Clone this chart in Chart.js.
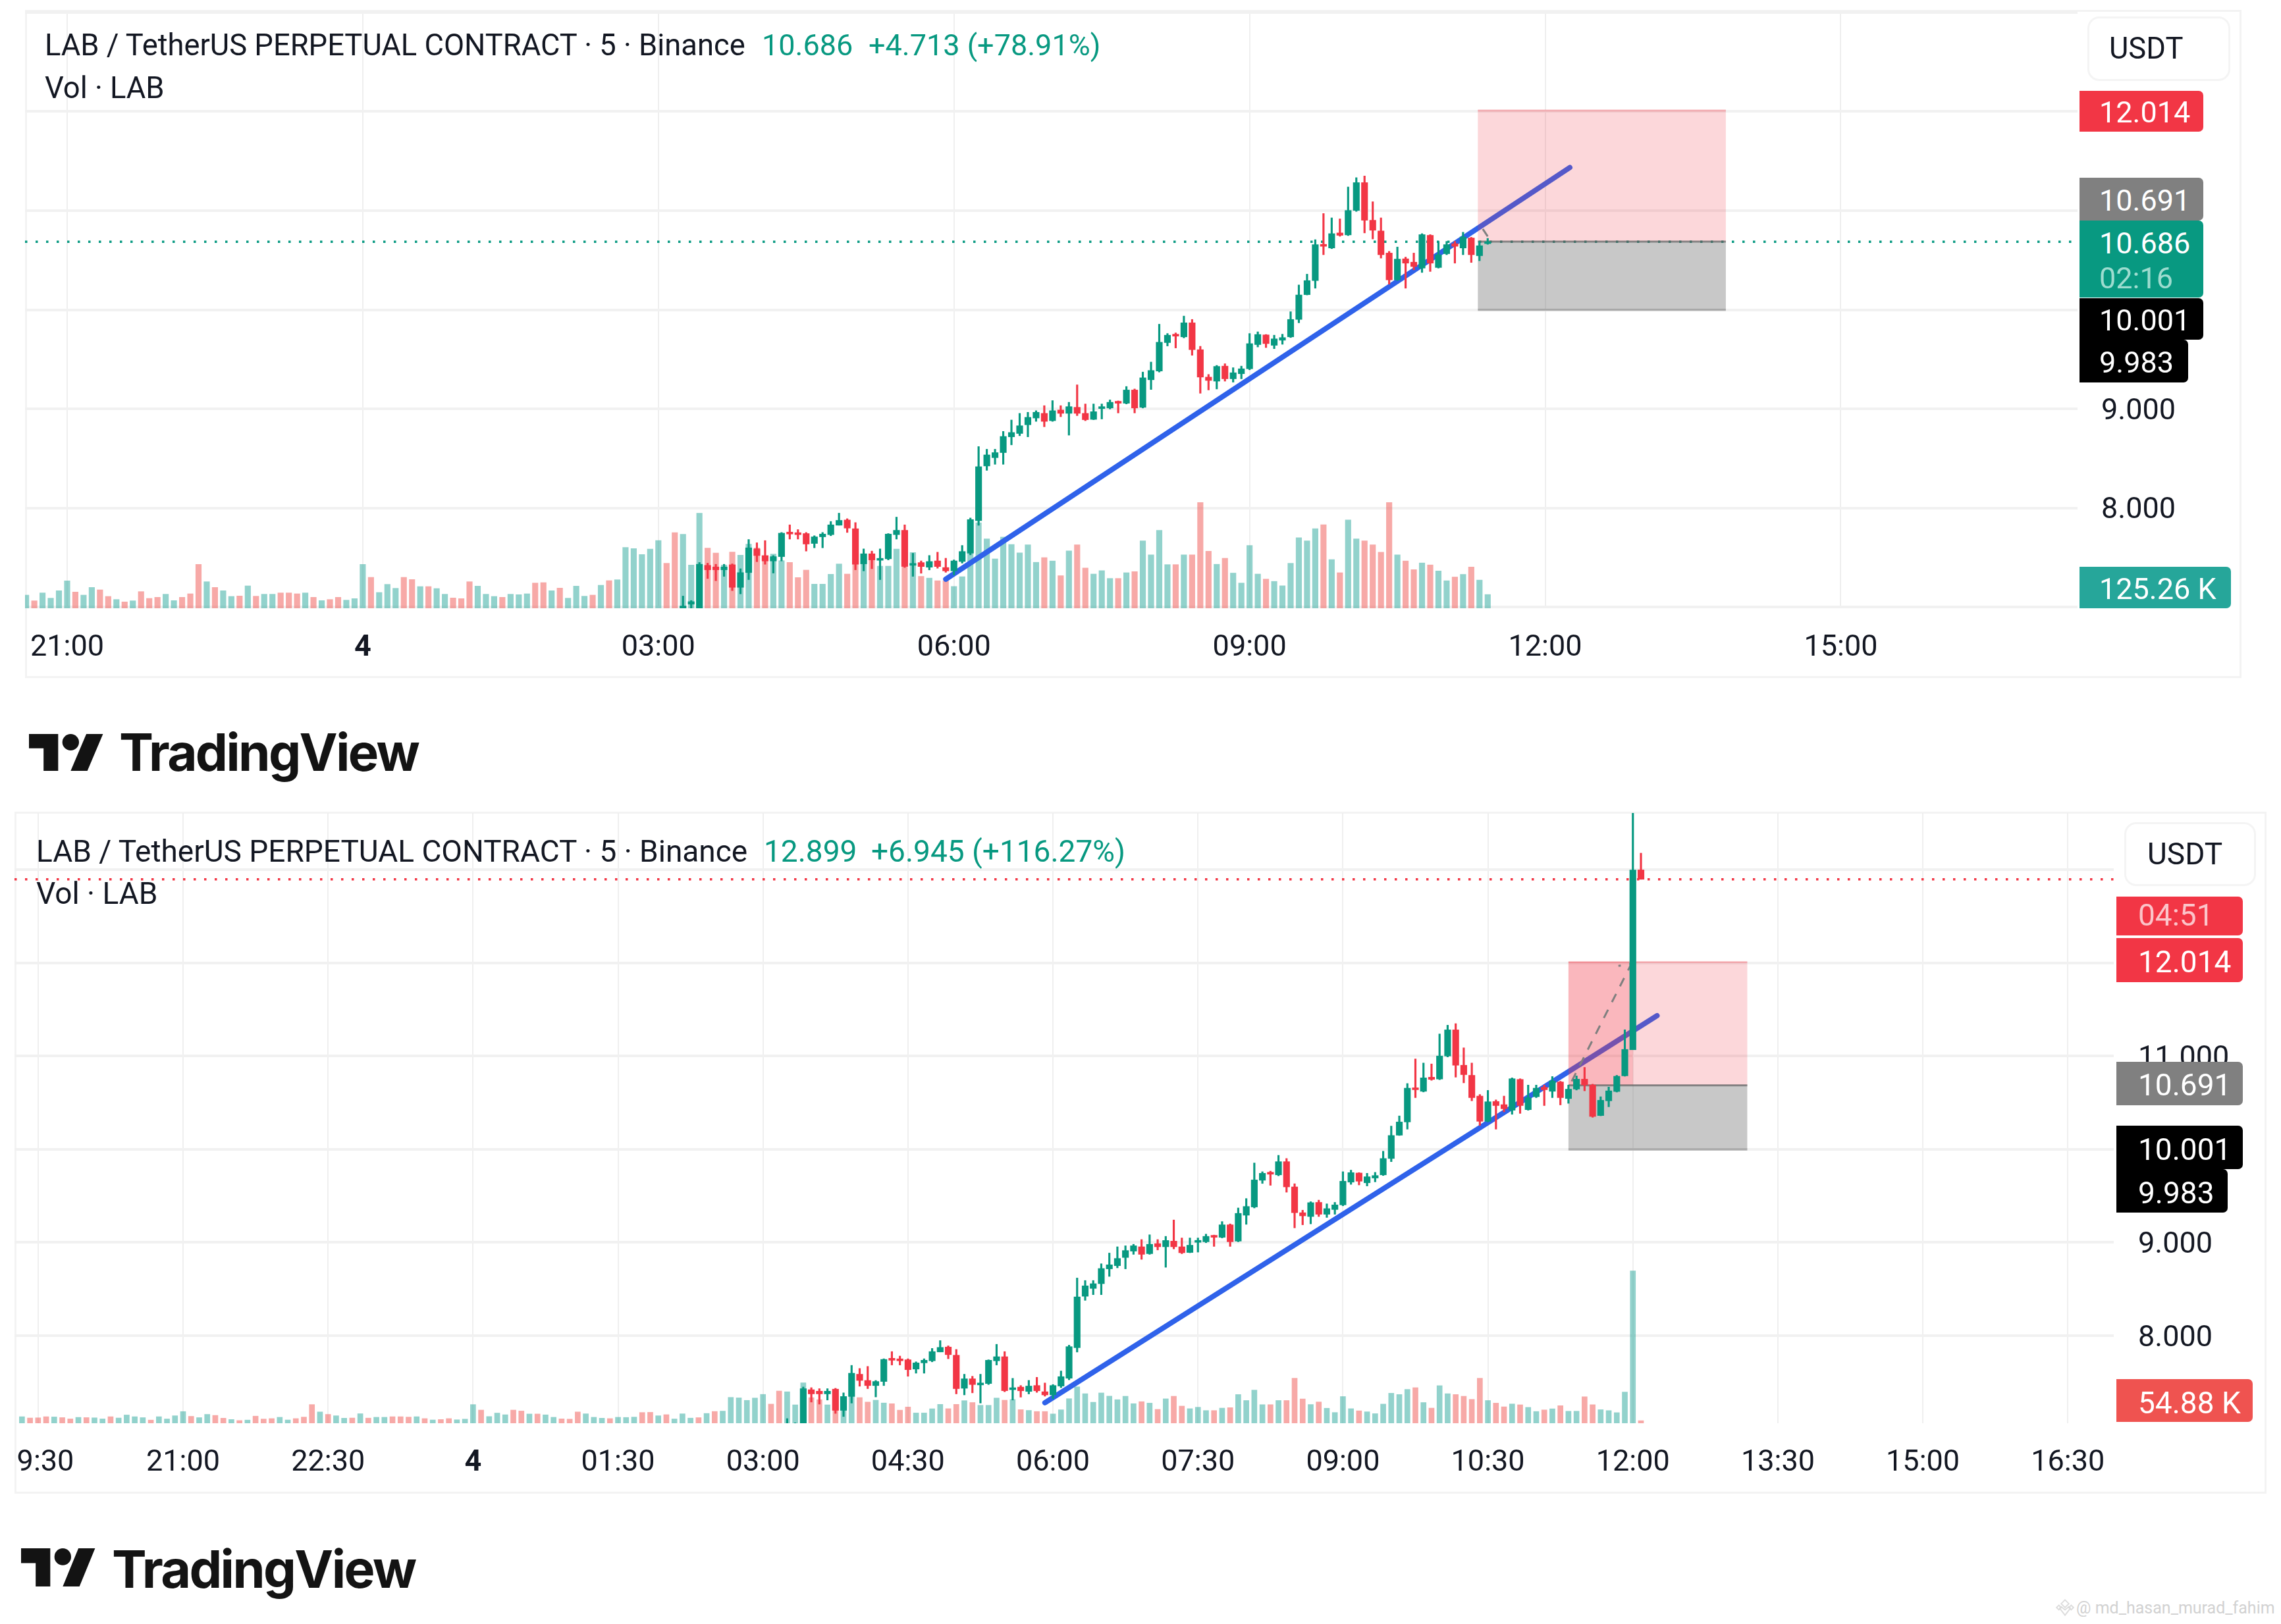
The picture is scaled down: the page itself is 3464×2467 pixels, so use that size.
<!DOCTYPE html>
<html>
<head>
<meta charset="utf-8">
<title>LAB / TetherUS PERPETUAL CONTRACT</title>
<script src="https://cdn.jsdelivr.net/npm/chart.js@4"></script>
<style>
    html, body { margin: 0; padding: 0; background: #fff; }
    body { position: relative; width: 3464px; height: 2467px; overflow: hidden; font-family: Roboto, sans-serif; color: #131722; }
    canvas { position: absolute; }
    .frame { position: absolute; box-sizing: border-box; border: 3px solid #f3f3f3; }
    .txt { position: absolute; white-space: pre; transform: translateY(-50%); }
    .tag { position: absolute; border-radius: 0 7px 7px 0; }
    .unit { position: absolute; box-sizing: border-box; border: 3px solid #f4f4f4; border-radius: 18px; }
    .logo { position: absolute; }
</style>
</head>
<body>
<script>
// Bars are numbered from 21:00 of the day before, one bar every 5 minutes
const volumeStart = -20;
const volumes = [
    140, 112, 116, 140, 135, 121, 93, 126, 121, 116, 93, 140, 112, 177, 140,
    120, 68, 140, 92, 160, 250, 148, 120, 190, 168, 108, 80, 58, 68, 152, 90, 100, 128, 70, 100, 132, 400, 242, 190, 160,
    108, 112, 204, 110, 128, 128, 140, 140, 132, 140, 100, 70, 80, 100, 74, 88, 400, 282, 144, 218, 182, 282, 262, 198, 198,
    180, 128, 94, 88, 242, 202, 128, 108, 100, 128, 124, 132, 230, 234, 160, 184, 92, 202, 110, 120, 210, 252, 260,
    554, 544, 490, 540, 618, 410, 690, 674, 394, 866, 548, 504, 394, 512, 484, 584, 550, 454, 494, 434, 418, 280, 348, 220, 220,
    310, 404, 312, 404, 484, 444, 384, 384, 540, 494, 508,
    291, 275, 251, 251, 199, 288, 526, 780, 633, 450, 649, 581, 505, 578, 419, 462, 431, 297, 523, 578, 367, 312, 343, 272, 272,
    324, 334, 615, 487, 710, 398, 398, 487, 487, 964, 520, 401, 456, 321, 230, 572, 312, 266, 245, 205, 410, 643, 615, 725, 762,
    444, 324, 805, 633, 615, 578, 511, 964, 487, 431, 352, 413, 395, 340, 251, 285, 309, 376, 257,
    258, 567, 397, 290, 271, 227, 668, 3263, 55
];
// Direction of the volume bars whose candle is below the visible range
const volumeUp = [
    1, 0, 0, 0, 1, 0, 0, 1, 0, 1, 1, 0, 1, 1, 1,
    1, 0, 1, 1, 1, 1, 0, 1, 1, 0, 0, 1, 0, 1, 0, 0, 0, 1, 1, 0, 0, 0, 1, 0, 1,
    1, 0, 1, 0, 1, 1, 0, 0, 0, 1, 0, 1, 0, 0, 1, 1, 1, 0, 1, 1, 1, 0, 0, 1, 0,
    1, 1, 0, 0, 0, 1, 1, 1, 0, 1, 1, 1, 0, 0, 1, 0, 1, 1, 1, 0, 1, 0, 1, 1, 1, 1, 1, 1, 0, 0
];

const candleStart = 75;
const opens = [
    6.983, 7.028, 6.988, 7.42, 7.404, 7.375, 7.426, 7.198, 7.347, 7.586, 7.519, 7.464, 7.508, 7.745, 7.745, 7.741, 7.641, 7.708, 7.73, 7.825,
    7.878, 7.79, 7.435, 7.537, 7.471, 7.486, 7.73, 7.774, 7.42,
    7.448, 7.401, 7.465, 7.398, 7.364, 7.459, 7.543, 7.871, 8.423, 8.507, 8.558, 8.717, 8.751, 8.839, 8.907, 8.954, 8.88, 8.988, 8.954, 9.015,
    8.954, 8.893, 9.002, 9.008, 9.073, 9.056, 9.19, 9.015, 9.293, 9.381, 9.668, 9.75, 9.726, 9.868, 9.597, 9.32, 9.279, 9.431, 9.303, 9.354,
    9.404, 9.648, 9.746, 9.641, 9.692, 9.726, 9.902, 10.152, 10.294, 10.657, 10.623, 10.775, 10.755, 11.002, 11.283, 10.903, 10.795, 10.572,
    10.301, 10.514, 10.48, 10.42, 10.751, 10.426, 10.565, 10.667, 10.623, 10.724, 10.545,
    10.647, 10.754, 10.691, 10.363, 10.521, 10.621, 10.789, 11.07, 13.0
];
const highs = [
    7.11, 7.065, 7.449, 7.442, 7.431, 7.431, 7.435, 7.386, 7.681, 7.648, 7.67, 7.519, 7.752, 7.829, 7.781, 7.752, 7.719, 7.752, 7.863, 7.947,
    7.891, 7.852, 7.586, 7.564, 7.586, 7.741, 7.907, 7.829, 7.542,
    7.465, 7.52, 7.553, 7.492, 7.475, 7.621, 7.898, 8.619, 8.592, 8.592, 8.772, 8.887, 8.954, 8.965, 8.981, 9.032, 9.083, 9.032, 9.066, 9.242,
    9.049, 9.049, 9.049, 9.09, 9.08, 9.225, 9.2, 9.371, 9.472, 9.854, 9.76, 9.766, 9.936, 9.902, 9.631, 9.347, 9.438, 9.455, 9.415, 9.431,
    9.76, 9.777, 9.75, 9.743, 9.753, 9.98, 10.25, 10.359, 10.707, 10.971, 10.927, 10.917, 11.239, 11.333, 11.35, 11.09, 10.927, 10.589,
    10.633, 10.531, 10.572, 10.768, 10.758, 10.69, 10.69, 10.69, 10.782, 10.731, 10.69,
    10.789, 10.88, 10.7, 10.565, 10.669, 10.795, 11.284, 13.9, 13.18
];
const lows = [
    6.96, 6.988, 6.983, 7.287, 7.265, 7.309, 7.165, 7.132, 7.276, 7.457, 7.431, 7.342, 7.464, 7.685, 7.685, 7.564, 7.597, 7.597, 7.719, 7.825,
    7.752, 7.375, 7.364, 7.386, 7.276, 7.475, 7.685, 7.398, 7.309,
    7.34, 7.374, 7.391, 7.35, 7.323, 7.442, 7.526, 7.824, 8.379, 8.44, 8.44, 8.636, 8.728, 8.717, 8.873, 8.819, 8.873, 8.92, 8.734, 8.931,
    8.88, 8.89, 8.897, 8.998, 8.958, 9.049, 8.958, 9.008, 9.195, 9.371, 9.634, 9.614, 9.716, 9.54, 9.157, 9.19, 9.2, 9.279, 9.269, 9.303,
    9.394, 9.624, 9.618, 9.607, 9.651, 9.719, 9.868, 10.149, 10.217, 10.555, 10.616, 10.741, 10.748, 10.992, 10.775, 10.714, 10.521, 10.257,
    10.294, 10.217, 10.403, 10.376, 10.386, 10.42, 10.555, 10.47, 10.555, 10.477, 10.494,
    10.637, 10.628, 10.344, 10.36, 10.457, 10.615, 10.785, 11.07, 12.899
];
const closes = [
    7.01, 7.054, 7.431, 7.375, 7.375, 7.404, 7.198, 7.347, 7.597, 7.519, 7.464, 7.508, 7.745, 7.736, 7.73, 7.635, 7.708, 7.736, 7.829, 7.874,
    7.796, 7.431, 7.537, 7.475, 7.486, 7.736, 7.774, 7.409, 7.435,
    7.408, 7.459, 7.408, 7.364, 7.465, 7.56, 7.882, 8.416, 8.535, 8.558, 8.721, 8.761, 8.829, 8.914, 8.965, 8.873, 8.981, 8.954, 9.022, 8.954,
    8.89, 8.971, 9.022, 9.066, 9.056, 9.19, 9.008, 9.313, 9.387, 9.672, 9.743, 9.733, 9.868, 9.597, 9.32, 9.286, 9.428, 9.303, 9.364, 9.404,
    9.658, 9.75, 9.658, 9.706, 9.719, 9.902, 10.149, 10.294, 10.657, 10.64, 10.768, 10.751, 11.002, 11.283, 10.903, 10.802, 10.555, 10.301,
    10.511, 10.47, 10.436, 10.758, 10.47, 10.555, 10.657, 10.64, 10.734, 10.555, 10.646,
    10.754, 10.691, 10.353, 10.527, 10.628, 10.785, 11.073, 13.0, 12.899
];

// Last bar of the top panel was still forming: index, open, high, low, close, volume
const formingIndex = 173;
const formingBar = [10.667, 10.72, 10.66, 10.686];
const formingVolume = 125.26;

const topTicks = [0, 36, 72, 108, 144, 180, 216];
const topLabels = ['21:00', '4', '03:00', '06:00', '09:00', '12:00', '15:00'];
const bottomTicks = [-18, 0, 18, 36, 54, 72, 90, 108, 126, 144, 162, 180, 198, 216, 234];
const bottomLabels = ['  9:30', '21:00', '22:30', '4', '01:30', '03:00', '04:30', '06:00', '07:30', '09:00', '10:30', '12:00', '13:30', '15:00', '16:30'];
const topPriceTicks = [7, 8, 9, 10, 11, 12, 13];
const bottomPriceTicks = [8, 9, 10, 11, 12, 13];
const topPriceLabels = [8, 9];
const bottomPriceLabels = [8, 9, 11];

// Drawn trade setup
const targetPrice = 12.014;
const entryPrice = 10.691;
const stopPrice = 10.001;
const lastTopPrice = 10.686;
const lastBottomPrice = 12.899;
const trendIndex = [107, 183];
const trendPrice = [7.28, 11.435];
const topPathIndex = [172.4, 173];
const topPathPrice = [10.815, 10.74];
const bottomPathIndex = [172.4, 179.8, 178.2];
const bottomPathPrice = [10.73, 11.99, 11.97];

const upColor = '#089981';
const downColor = '#F23645';
const upVolume = 'rgba(38, 166, 154, 0.5)';
const downVolume = 'rgba(239, 83, 80, 0.5)';
const trendColor = '#2F62EA';
const pathColor = '#7f7f7f';
const gridColor = '#f1f1f1';

// Candles up to lastIndex, with an optional forming bar on the end
function buildCandles(lastIndex, forming) {
    const wicks = [];
    const bodies = [];
    const colors = [];
    opens.forEach((open, i) => {
        const x = candleStart + i;
        if (x > lastIndex) return;
        wicks.push({ x: x, y: [lows[i], highs[i]] });
        bodies.push({ x: x, y: [open, closes[i]] });
        colors.push(closes[i] >= open ? upColor : downColor);
    });
    if (forming) {
        wicks.push({ x: formingIndex, y: [formingBar[2], formingBar[1]] });
        bodies.push({ x: formingIndex, y: [formingBar[0], formingBar[3]] });
        colors.push(upColor);
    }
    return { wicks, bodies, colors };
}

function buildVolume(lastIndex, forming) {
    const bars = [];
    const colors = [];
    volumes.forEach((value, i) => {
        const x = volumeStart + i;
        if (x > lastIndex) return;
        const up = x < candleStart ? volumeUp[i] === 1 : closes[x - candleStart] >= opens[x - candleStart];
        bars.push({ x: x, y: value });
        colors.push(up ? upVolume : downVolume);
    });
    if (forming) {
        bars.push({ x: formingIndex, y: formingVolume });
        colors.push(upVolume);
    }
    return { bars, colors };
}

function linePoints(xs, ys) {
    return xs.map((x, i) => ({ x: x, y: ys[i] }));
}

// Long/short position boxes, painted between the trend line and the candles
const positionBoxes = {
    id: 'positionBoxes',
    beforeDatasetDraw(chart, args, opts) {
        if (chart.data.datasets[args.index].label !== 'path') return;
        const { ctx, scales: { x, y } } = chart;
        const left = x.getPixelForValue(opts.start);
        const right = x.getPixelForValue(opts.end);
        const top = y.getPixelForValue(targetPrice);
        const mid = y.getPixelForValue(entryPrice);
        const bottom = y.getPixelForValue(stopPrice);
        ctx.save();
        ctx.fillStyle = 'rgba(242, 54, 69, 0.2)';
        ctx.fillRect(left, top, right - left, mid - top);
        ctx.fillStyle = 'rgba(110, 110, 110, 0.38)';
        ctx.fillRect(left, mid, right - left, bottom - mid);
        if (opts.filledTo) {
            ctx.fillStyle = 'rgba(242, 54, 69, 0.2)';
            ctx.fillRect(left, top, x.getPixelForValue(opts.filledTo) - left, mid - top);
        }
        ctx.fillStyle = 'rgba(242, 54, 69, 0.25)';
        ctx.fillRect(left, top - 1, right - left, 3);
        ctx.fillStyle = 'rgba(90, 90, 90, 0.65)';
        ctx.fillRect(left, mid - 1, right - left, 3);
        ctx.fillStyle = 'rgba(90, 90, 90, 0.4)';
        ctx.fillRect(left, bottom - 1, right - left, 3);
        ctx.restore();
    }
};

// Keep the plot area exact, no room reserved for overhanging tick labels
function clearPadding(scale) {
    scale.paddingLeft = 0;
    scale.paddingRight = 0;
    scale.paddingTop = 0;
    scale.paddingBottom = 0;
}

function createPanel(cfg) {
    const canvas = document.createElement('canvas');
    canvas.width = cfg.width;
    canvas.height = cfg.height;
    canvas.style.left = cfg.left + 'px';
    canvas.style.top = cfg.top + 'px';
    canvas.style.width = cfg.width + 'px';
    canvas.style.height = cfg.height + 'px';
    document.body.appendChild(canvas);

    return new Chart(canvas.getContext('2d'), {
        type: 'bar',
        data: {
            datasets: [
                { label: 'bodies', data: cfg.candles.bodies, backgroundColor: cfg.candles.colors, barThickness: cfg.bodyWidth, minBarLength: 3, grouped: false, order: 1 },
                { label: 'wicks', data: cfg.candles.wicks, backgroundColor: cfg.candles.colors, barThickness: 2.5, grouped: false, order: 2 },
                { label: 'path', type: 'line', data: cfg.path, borderColor: pathColor, borderWidth: 3, borderDash: [14, 13], pointRadius: 0, order: 3 },
                { label: 'trend', type: 'line', data: linePoints(trendIndex, trendPrice), borderColor: trendColor, borderWidth: 8, borderCapStyle: 'round', pointRadius: 0, order: 4 },
                { label: 'last', type: 'line', data: cfg.lastLine, borderColor: cfg.lastColor, borderWidth: 3.5, borderDash: [3.5, 12.5], pointRadius: 0, order: 5 },
                { label: 'volume', yAxisID: 'vol', data: cfg.volume.bars, backgroundColor: cfg.volume.colors, barThickness: cfg.volumeWidth, grouped: false, order: 6 }
            ]
        },
        plugins: [positionBoxes],
        options: {
            responsive: false,
            animation: false,
            devicePixelRatio: 1,
            layout: { padding: { top: cfg.plotTop, left: 0, right: 0, bottom: 0 } },
            plugins: {
                legend: { display: false },
                tooltip: { enabled: false },
                positionBoxes: cfg.box
            },
            scales: {
                x: {
                    type: 'linear',
                    min: cfg.xMin,
                    max: cfg.xMax,
                    offset: false,
                    border: { display: false },
                    grid: { color: '#efefef', lineWidth: 2, offset: false, drawTicks: false },
                    afterBuildTicks: scale => { scale.ticks = cfg.xTicks.map(v => ({ value: v })); },
                    afterFit: scale => { scale.height = cfg.axisHeight; clearPadding(scale); },
                    ticks: {
                        autoSkip: false,
                        maxRotation: 0,
                        padding: cfg.xPadding,
                        color: '#131722',
                        font: ctx => ({
                            family: 'Roboto',
                            size: cfg.fontSize,
                            weight: cfg.xLabels[ctx.index] === '4' ? '700' : '400'
                        }),
                        callback: (value, index) => cfg.xLabels[index]
                    }
                },
                y: {
                    type: 'linear',
                    position: 'right',
                    min: cfg.yMin,
                    max: cfg.yMax,
                    border: { display: false },
                    grid: { color: gridColor, lineWidth: 4, drawTicks: false },
                    afterBuildTicks: scale => { scale.ticks = cfg.yTicks.map(v => ({ value: v })); },
                    afterFit: scale => { scale.width = cfg.axisWidth; clearPadding(scale); },
                    ticks: {
                        padding: cfg.yPadding,
                        labelOffset: 4.5,
                        color: '#131722',
                        font: { family: 'Roboto', size: cfg.fontSize },
                        callback: value => cfg.yLabels.includes(value) ? value.toFixed(3) : ''
                    }
                },
                vol: { type: 'linear', display: false, min: 0, max: cfg.volMax }
            }
        }
    });
}

// Page furniture in plain HTML
function addBox(className, left, top, right, bottom, background) {
    const el = document.createElement('div');
    el.className = className;
    el.style.left = left + 'px';
    el.style.top = top + 'px';
    el.style.width = (right - left) + 'px';
    el.style.height = (bottom - top) + 'px';
    if (background) el.style.background = background;
    document.body.appendChild(el);
    return el;
}

function addText(text, left, centerY, size, color, weight, family) {
    const el = document.createElement('div');
    el.className = 'txt';
    el.textContent = text;
    el.style.left = left + 'px';
    el.style.top = centerY + 'px';
    el.style.fontSize = size + 'px';
    el.style.lineHeight = '1.2';
    el.style.color = color || '#131722';
    if (weight) el.style.fontWeight = weight;
    if (family) el.style.fontFamily = family;
    document.body.appendChild(el);
    return el;
}

function addTag(text, left, top, right, bottom, background, textLeft, size, textShift) {
    addBox('tag', left, top, right, bottom, background);
    addText(text, textLeft, (top + bottom) / 2 + textShift, size, '#ffffff');
}

function addLogo(left, top, width, height) {
    const ns = 'http://www.w3.org/2000/svg';
    const svg = document.createElementNS(ns, 'svg');
    svg.setAttribute('class', 'logo');
    svg.setAttribute('viewBox', '0 4 36 18');
    svg.setAttribute('preserveAspectRatio', 'none');
    svg.style.left = left + 'px';
    svg.style.top = top + 'px';
    svg.style.width = width + 'px';
    svg.style.height = height + 'px';
    const path = document.createElementNS(ns, 'path');
    path.setAttribute('d', 'M14 22H7V11H0V4h14v18zM28 22h-8l7.5-18h8L28 22z');
    path.setAttribute('fill', '#131313');
    const dot = document.createElementNS(ns, 'circle');
    dot.setAttribute('cx', '20');
    dot.setAttribute('cy', '8');
    dot.setAttribute('r', '4');
    dot.setAttribute('fill', '#131313');
    svg.appendChild(path);
    svg.appendChild(dot);
    document.body.appendChild(svg);
}

// Small diamond mark in front of the watermark
function addWatermarkMark(left, top, size) {
    const ns = 'http://www.w3.org/2000/svg';
    const svg = document.createElementNS(ns, 'svg');
    svg.setAttribute('class', 'logo');
    svg.setAttribute('viewBox', '0 0 24 24');
    svg.style.left = left + 'px';
    svg.style.top = top + 'px';
    svg.style.width = size + 'px';
    svg.style.height = size + 'px';
    const path = document.createElementNS(ns, 'path');
    path.setAttribute('d', 'M12 2l5 5-5 5-5-5zM4 9l3 3-3 3-3-3zM20 9l3 3-3 3-3-3zM12 15l5-4 2 2-7 9-7-9 2-2z');
    path.setAttribute('fill', 'none');
    path.setAttribute('stroke', '#dcdcdc');
    path.setAttribute('stroke-width', '1.6');
    svg.appendChild(path);
    document.body.appendChild(svg);
}

function addWordmark(left, centerY, size) {
    const el = addText('TradingView', left, centerY, size, '#131313', '700', 'Inter');
    el.style.letterSpacing = '-2.6px';
}

addBox('frame', 38, 15, 3404, 1030);
addBox('frame', 22, 1233, 3442, 2269);

const topXMin = -5.13;
const topXMax = 244.83;
createPanel({
    left: 38, top: 15, width: 3366, height: 1015,
    plotTop: 2, axisHeight: 106, axisWidth: 249,
    xMin: topXMin, xMax: topXMax, xTicks: topTicks, xLabels: topLabels, xPadding: 34,
    yMin: 6.987, yMax: 13.013, yTicks: topPriceTicks, yLabels: topPriceLabels, yPadding: 36,
    volMax: 5442, fontSize: 45, bodyWidth: 9.5, volumeWidth: 8.5,
    candles: buildCandles(172, true),
    volume: buildVolume(172, true),
    path: linePoints(topPathIndex, topPathPrice),
    lastLine: linePoints([topXMin, topXMax], [lastTopPrice, lastTopPrice]),
    lastColor: upColor,
    box: { start: 171.8, end: 202 }
});

const bottomXMin = -20.93;
const bottomXMax = 239.7;
createPanel({
    left: 22, top: 1235, width: 3420, height: 1034,
    plotTop: 0, axisHeight: 107, axisWidth: 232,
    xMin: bottomXMin, xMax: bottomXMax, xTicks: bottomTicks, xLabels: bottomLabels, xPadding: 34,
    yMin: 7.06, yMax: 13.611, yTicks: bottomPriceTicks, yLabels: bottomPriceLabels, yPadding: 37,
    volMax: 13071, fontSize: 45, bodyWidth: 9.5, volumeWidth: 8,
    candles: buildCandles(181, false),
    volume: buildVolume(181, false),
    path: linePoints(bottomPathIndex, bottomPathPrice),
    lastLine: linePoints([bottomXMin, bottomXMax], [lastBottomPrice, lastBottomPrice]),
    lastColor: downColor,
    box: { start: 172, end: 194.2, filledTo: 180 }
});

// Top panel legend, unit button and price tags
addText('LAB / TetherUS PERPETUAL CONTRACT · 5 · Binance', 68, 69, 45.3);
addText('10.686', 1157, 69, 45, upColor);
addText('+4.713 (+78.91%)', 1319, 69, 45, upColor);
addText('Vol · LAB', 68, 134, 45.3);
addBox('unit', 3170, 25, 3387, 123);
addText('USDT', 3203, 74, 45.3);
addTag('12.014', 3158, 138, 3346, 200, '#F23645', 3188, 45, 2);
addTag('10.691', 3158, 270, 3346, 335, '#808080', 3188, 45, 2);
addBox('tag', 3158, 335, 3346, 452, '#089981');
addText('10.686', 3188, 370, 45, '#ffffff');
addText('02:16', 3188, 423, 45, '#9ddccf');
addTag('10.001', 3158, 453, 3346, 516, '#000000', 3188, 45, 2);
addTag('9.983', 3158, 516, 3323, 581, '#000000', 3188, 45, 2);
addTag('125.26 K', 3158, 861, 3388, 924, '#26A69A', 3188, 45, 2);
addLogo(44, 1115, 114, 56);
addWordmark(181, 1143, 78);

// Bottom panel legend, unit button and price tags
addText('LAB / TetherUS PERPETUAL CONTRACT · 5 · Binance', 55, 1294, 46);
addText('12.899', 1160, 1294, 46, upColor);
addText('+6.945 (+116.27%)', 1323, 1294, 46, upColor);
addText('Vol · LAB', 55, 1358, 46);
addBox('unit', 3226, 1249, 3426, 1346);
addText('USDT', 3261, 1298, 46);
addBox('tag', 3214, 1362, 3406, 1421, '#F23645');
addText('04:51', 3247, 1391, 46, '#fbc4c9');
addTag('12.014', 3214, 1425, 3406, 1492, '#F23645', 3247, 46, 3);
addTag('10.691', 3214, 1613, 3406, 1679, '#808080', 3247, 46, 3);
addTag('10.001', 3214, 1710, 3406, 1776, '#000000', 3247, 46, 4);
addTag('9.983', 3214, 1776, 3383, 1842, '#000000', 3247, 46, 4);
addTag('54.88 K', 3214, 2095, 3421, 2160, '#EF5350', 3247, 46, 4);
addLogo(32, 2352, 114, 58);
addWordmark(170, 2383, 79);

addWatermarkMark(3122, 2428, 28);
addText('@ md_hasan_murad_fahim', 3153, 2443, 25, '#d2d2d2');
</script>
</body>
</html>
